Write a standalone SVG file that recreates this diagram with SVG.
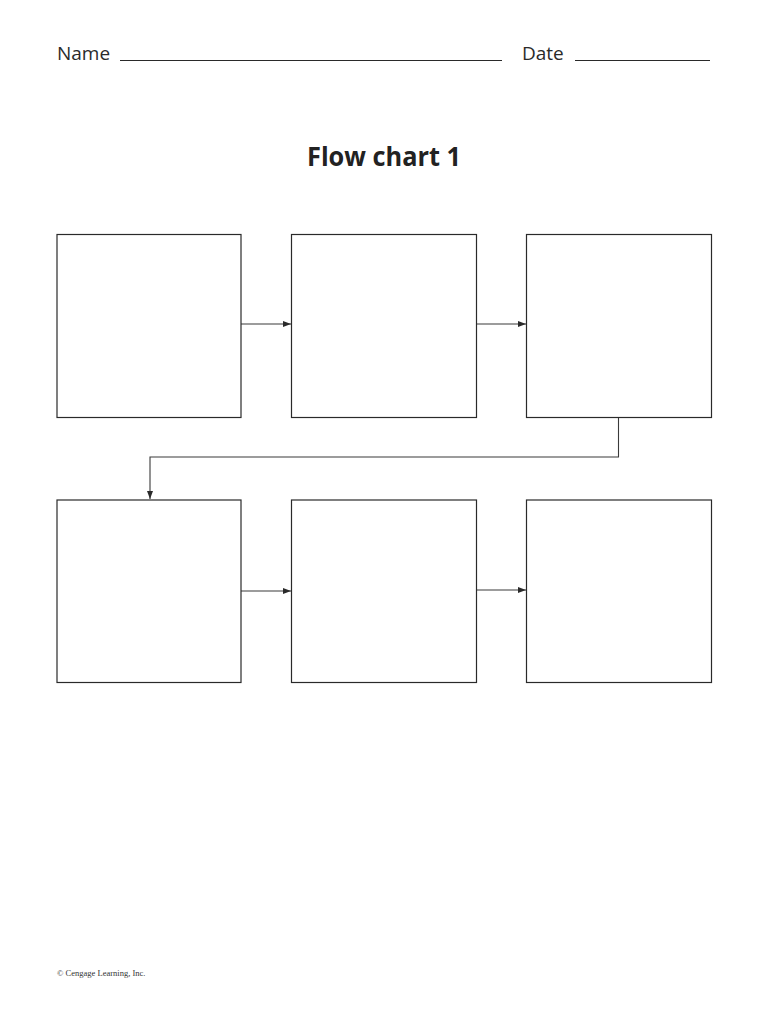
<svg xmlns="http://www.w3.org/2000/svg" width="768" height="1024" viewBox="0 0 768 1024">
<style>
.box{fill:#fff;stroke:#2a2a2a;stroke-width:1.2}
.conn{fill:none;stroke:#3a3a3a;stroke-width:1.1}
.label{font-family:"Open Sans","Liberation Sans",sans-serif;font-size:19px;fill:#2a2a2a}
.rule{stroke:#2a2a2a;stroke-width:1.2}
</style>
<defs>
<marker id="ah" markerWidth="8" markerHeight="6" refX="8" refY="3" orient="auto" markerUnits="userSpaceOnUse">
<path d="M0,0 L8,3 L0,6 Z" fill="#2a2a2a"/>
</marker>
</defs>
<rect width="768" height="1024" fill="#fff"/>
<g id="header">
<text class="label" x="57" y="60">Name</text>
<line class="rule" x1="120" y1="60.5" x2="502" y2="60.5"/>
<text class="label" x="522" y="60">Date</text>
<line class="rule" x1="575" y1="60.5" x2="710" y2="60.5"/>
<text x="384" y="166" text-anchor="middle" font-family="'Open Sans','Liberation Sans',sans-serif" font-weight="bold" font-size="27" fill="#222" textLength="154" lengthAdjust="spacingAndGlyphs">Flow chart 1</text>
</g>
<g id="connectors">
<line class="conn" x1="241" y1="324" x2="291" y2="324" marker-end="url(#ah)"/>
<line class="conn" x1="476" y1="324" x2="526" y2="324" marker-end="url(#ah)"/>
<polyline class="conn" points="618.5,417 618.5,457 150,457 150,499" marker-end="url(#ah)"/>
<line class="conn" x1="241" y1="591" x2="291" y2="591" marker-end="url(#ah)"/>
<line class="conn" x1="476" y1="590" x2="526" y2="590" marker-end="url(#ah)"/>
</g>
<g id="box1"><rect class="box" x="57" y="234.5" width="184" height="183"/></g>
<g id="box2"><rect class="box" x="291.5" y="234.5" width="185" height="183"/></g>
<g id="box3"><rect class="box" x="526.5" y="234.5" width="185" height="183"/></g>
<g id="box4"><rect class="box" x="57" y="500" width="184" height="182.5"/></g>
<g id="box5"><rect class="box" x="291.5" y="500" width="185" height="182.5"/></g>
<g id="box6"><rect class="box" x="526.5" y="500" width="185" height="182.5"/></g>
<text x="57" y="976" font-family="'Liberation Serif',serif" font-size="8.5" fill="#333">© Cengage Learning, Inc.</text>
</svg>
